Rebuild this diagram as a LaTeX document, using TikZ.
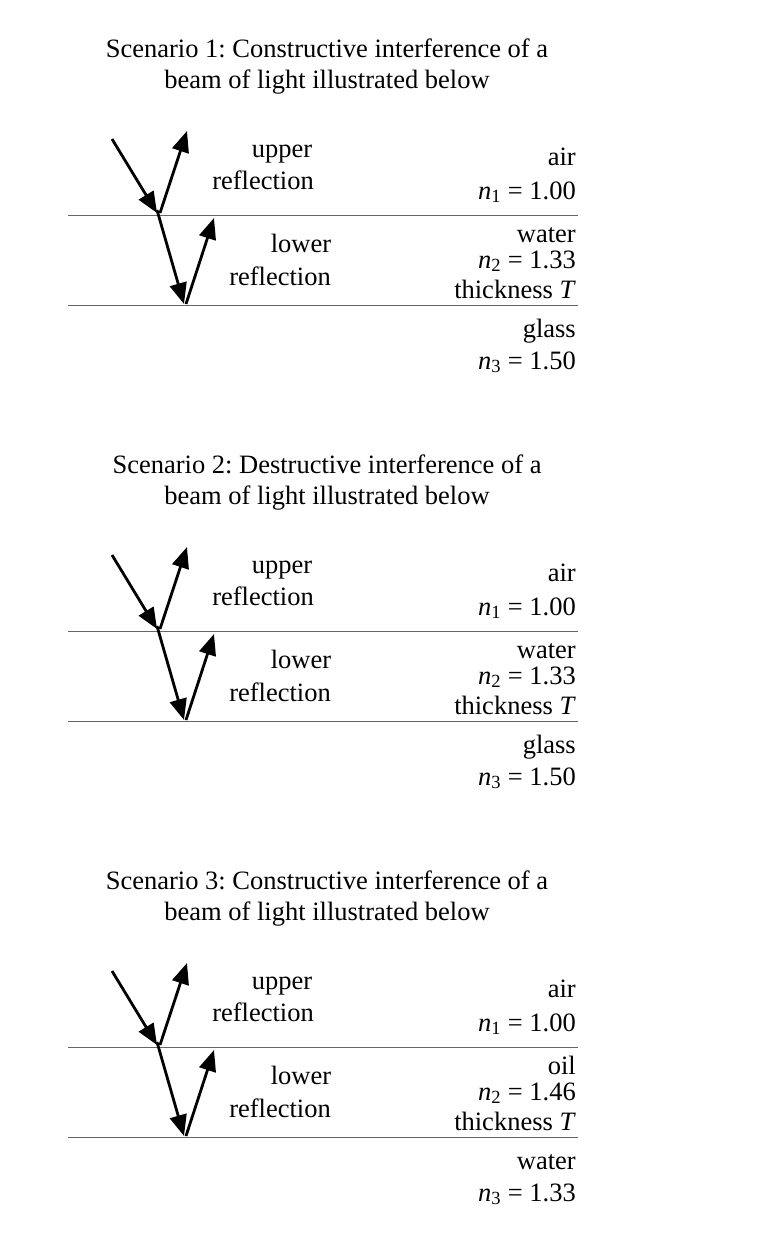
\documentclass[tikz,border=0pt]{standalone}
\usepackage{fontspec}
\setmainfont{Liberation Serif}
\usetikzlibrary{arrows.meta}
\newcommand{\nn}[2]{\textit{n}\textsubscript{#1} = #2}
\begin{document}
\frenchspacing
\begin{tikzpicture}[x=1pt,y=-1pt,
  txt/.style={font=\fontsize{26.5}{28}\selectfont,inner sep=0pt},
  ray/.style={line width=2.8pt,-{Triangle[length=21pt,width=17pt]}},
  iface/.style={draw=gray!80!black,line width=1pt}]
\useasboundingbox (0,0) rectangle (768,1256);
\foreach \o/\k/\mid/\nb/\nc/\bot/\nd in {0/1/Constructive/water/1.33/glass/1.50,416/2/Destructive/water/1.33/glass/1.50,832/3/Constructive/oil/1.46/water/1.33}{
 \begin{scope}[yshift=-\o pt]
  \node[txt] (t1\k) at (327,48) {Scenario \k: \mid\ interference of a};
  \node[txt] (t2\k) at (327,82) {beam of light illustrated below};
  \coordinate (l1a\k) at (68,215); \coordinate (l1b\k) at (578,215);
  \coordinate (l2a\k) at (68,305); \coordinate (l2b\k) at (578,305);
  \draw[iface] (l1a\k) -- (l1b\k);
  \draw[iface] (l2a\k) -- (l2b\k);
  \coordinate (s\k) at (112,139); \coordinate (p\k) at (157,213);
  \coordinate (u\k) at (187,131); \coordinate (q\k) at (184,304);
  \coordinate (v\k) at (214,218);
  \draw[ray] (s\k) -- (p\k);
  \draw[ray] ([xshift=3pt]p\k) -- (u\k);
  \draw[ray] ([yshift=3pt]p\k) -- (q\k);
  \draw[ray] ([xshift=2pt]q\k) -- (v\k);
  \node[txt,anchor=base] (up\k) at (282,157) {upper};
  \node[txt,anchor=base east] (ur\k) at (314,189) {reflection};
  \node[txt,anchor=base] (lo\k) at (301,252) {lower};
  \node[txt,anchor=base east] (lr\k) at (331,285) {reflection};
  \node[txt,anchor=base east] (m1\k) at (576,165) {air};
  \node[txt,anchor=base east] (n1\k) at (576,199) {\nn{1}{1.00}};
  \node[txt,anchor=base east] (m2\k) at (576,242) {\nb};
  \node[txt,anchor=base east] (n2\k) at (576,268) {\nn{2}{\nc}};
  \node[txt,anchor=base east] (th\k) at (576,298) {thickness \textit{T}};
  \node[txt,anchor=base east] (m3\k) at (576,337) {\bot};
  \node[txt,anchor=base east] (n3\k) at (576,369) {\nn{3}{\nd}};
 \end{scope}}
\end{tikzpicture}
\end{document}
